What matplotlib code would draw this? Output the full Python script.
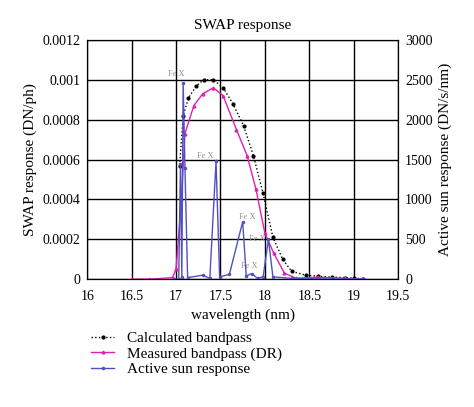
import matplotlib
matplotlib.use("Agg")
import matplotlib.pyplot as plt

plt.rcParams['font.family'] = ['Liberation Serif', 'DejaVu Serif']

calc_x = [17.04, 17.08, 17.14, 17.23, 17.31, 17.42, 17.53, 17.64, 17.76, 17.87, 17.98,
          18.09, 18.2, 18.3, 18.46, 18.6, 18.76, 18.9, 19.0, 19.1]
calc_y = [0.00057, 0.00082, 0.00091, 0.00097, 0.001, 0.001, 0.00096, 0.00088, 0.00077,
          0.00062, 0.00043, 0.00021, 0.0001, 0.00004, 0.00002, 0.000015, 0.00001,
          0.000008, 0.000005, 0.000003]

meas_x = [16.5, 16.7, 16.96, 17.0, 17.06, 17.1, 17.2, 17.3, 17.42, 17.53, 17.68, 17.8,
          17.9, 18.0, 18.1, 18.22, 18.35, 18.6, 18.9, 19.1]
meas_y = [0.0, 0.0, 0.000008, 0.00005, 0.0004, 0.00073, 0.00087, 0.00093, 0.00096,
          0.00092, 0.00075, 0.00062, 0.00045, 0.00023, 0.00013, 0.00003, 0.000005,
          0.00001, 0.000005, 0.0]

sun_x = [16.98, 17.03, 17.05, 17.065, 17.08, 17.1, 17.13, 17.3, 17.38, 17.45, 17.49,
         17.6, 17.75, 17.79, 17.85, 17.92, 17.98, 18.04, 18.09, 18.3, 18.6, 19.1]
sun_y = [0, 0, 1450, 30, 2460, 1400, 20, 50, 10, 1480, 30, 60, 720, 40, 70, 10, 30,
         500, 30, 10, 5, 0]

fe_labels = [(17.0, 2520, 'Fe X'), (17.33, 1500, 'Fe X'), (17.8, 730, 'Fe X'),
             (17.91, 450, 'Fe X'), (17.82, 120, 'Fe X')]

fig = plt.figure(figsize=(4.74, 4.07), dpi=100)
ax = fig.add_axes([0.184, 0.314, 0.656, 0.588])
ax.plot(calc_x, calc_y, color='black', linestyle=':', marker='o', markersize=2, linewidth=1,
        label='Calculated bandpass')
ax.plot(meas_x, meas_y, color='#e020b0', marker='^', markersize=2, linewidth=1,
        label='Measured bandpass (DR)')
ax.set_xlim(16, 19.5)
ax.set_ylim(0, 0.0012)
ax.set_xticks([16, 16.5, 17, 17.5, 18, 18.5, 19, 19.5])
ax.set_xticklabels(['16', '16.5', '17', '17.5', '18', '18.5', '19', '19.5'])
ax.set_yticks([0, 0.0002, 0.0004, 0.0006, 0.0008, 0.001, 0.0012])
ax.set_yticklabels(['0', '0.0002', '0.0004', '0.0006', '0.0008', '0.001', '0.0012'])
ax.grid(True, color='black', linewidth=1)
ax.tick_params(labelsize=10, length=0)
ax.tick_params(axis='x', pad=8)
ax.tick_params(axis='y', pad=5)
ax.set_xlabel('wavelength (nm)', fontsize=11)
ax.set_ylabel('SWAP response (DN/ph)', fontsize=11)
ax.set_title('SWAP response', fontsize=11, pad=8)

ax2 = ax.twinx()
ax2.plot(sun_x, sun_y, color='#5050c0', marker='o', markersize=1.5, linewidth=1,
         markerfacecolor='none', label='Active sun response')
ax2.set_ylim(0, 3000)
ax2.set_yticks([0, 500, 1000, 1500, 2000, 2500, 3000])
ax2.tick_params(labelsize=10, length=0, pad=5)
ax2.set_ylabel('Active sun response (DN/s/nm)', fontsize=11)
for x, y, t in fe_labels:
    ax2.text(x, y, t, fontsize=6, color='#909090', ha='center', va='bottom')

h1, l1 = ax.get_legend_handles_labels()
h2, l2 = ax2.get_legend_handles_labels()
fig.legend(h1 + h2, l1 + l2, loc='upper left', bbox_to_anchor=(0.18, 0.2), frameon=False,
           fontsize=11, handlelength=1.5, labelspacing=0.1, borderaxespad=0)
fig.savefig('out.png', dpi=100)
